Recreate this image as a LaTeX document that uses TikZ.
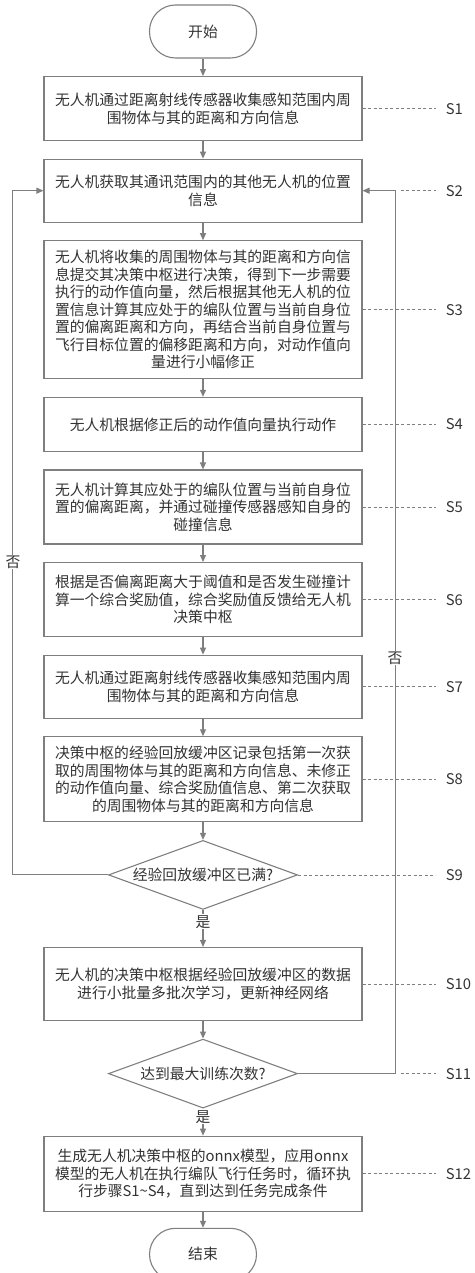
\documentclass[tikz,border=0pt]{standalone}
\usepackage{fontspec}
\setmainfont{Noto Sans CJK SC}
\usetikzlibrary{arrows.meta,positioning,shapes.geometric}
\definecolor{flowgrey}{HTML}{7F7F7F}
\definecolor{flowtext}{HTML}{333333}
\newcommand{\cnsize}{\fontsize{14.8pt}{17.5pt}\selectfont}

\begin{document}
\begin{tikzpicture}[
every node/.style={font=\cnsize,text=flowtext},
box/.style={draw=flowgrey,line width=1.1pt,align=center,minimum width=318pt,minimum height=63pt,inner sep=2pt,fill=white},
term/.style={draw=flowgrey,line width=1.1pt,rounded corners=26pt,minimum width=107pt,minimum height=53pt},
dec/.style={draw=flowgrey,line width=1.1pt,diamond,aspect=2.7,minimum width=189pt,minimum height=69pt,inner sep=1pt},
arr/.style={-{Triangle[length=7pt,width=6pt]},line width=1.1pt,draw=flowgrey},
lnk/.style={draw=flowgrey,line width=0.7pt,dash pattern=on 3pt off 2.5pt,shorten >=10pt},
tag/.style={anchor=west,inner sep=0pt},
yn/.style={fill=white,inner sep=1pt},
node distance=17.5pt
]
\useasboundingbox (0,0) rectangle (474pt,-1273pt);

% main column
\node[term] (start) at (203pt,-31.5pt) {开始};
\node[box,below=of start,minimum height=64pt] (s1) {无人机通过距离射线传感器收集感知范围内周\\围物体与其的距离和方向信息};
\node[box,below=of s1] (s2) {无人机获取其通讯范围内的其他无人机的位置\\信息};
\node[box,below=of s2,minimum height=138pt] (s3) {无人机将收集的周围物体与其的距离和方向信\\息提交其决策中枢进行决策，得到下一步需要\\执行的动作值向量，然后根据其他无人机的位\\置信息计算其应处于的编队位置与当前自身位\\置的偏离距离和方向，再结合当前自身位置与\\飞行目标位置的偏移距离和方向，对动作值向\\量进行小幅修正};
\node[box,below=of s3,minimum height=54pt] (s4) {无人机根据修正后的动作值向量执行动作};
\node[box,below=of s4,minimum height=74pt] (s5) {无人机计算其应处于的编队位置与当前自身位\\置的偏离距离，并通过碰撞传感器感知自身的\\碰撞信息};
\node[box,below=of s5,minimum height=74pt] (s6) {根据是否偏离距离大于阈值和是否发生碰撞计\\算一个综合奖励值，综合奖励值反馈给无人机\\决策中枢};
\node[box,below=of s6] (s7) {无人机通过距离射线传感器收集感知范围内周\\围物体与其的距离和方向信息};
\node[box,below=of s7,minimum height=85pt] (s8) {决策中枢的经验回放缓冲区记录包括第一次获\\取的周围物体与其的距离和方向信息、未修正\\的动作值向量、综合奖励值信息、第二次获取\\的周围物体与其的距离和方向信息};
\node[dec,below=of s8] (s9) {经验回放缓冲区已满?};
\node[box,below=37pt of s9,minimum height=73pt] (s10) {无人机的决策中枢根据经验回放缓冲区的数据\\进行小批量多批次学习，更新神经网络};
\node[dec,below=of s10] (s11) {达到最大训练次数?};
\node[box,below=27pt of s11,minimum height=75pt] (s12) {生成无人机决策中枢的onnx模型，应用onnx\\模型的无人机在执行编队飞行任务时，循环执\\行步骤S1\textasciitilde S4，直到达到任务完成条件};
\node[term,below=16pt of s12,minimum height=52pt] (stop) {结束};

\draw[arr] (start) -- (s1);
\draw[arr] (s1) -- (s2);
\draw[arr] (s2) -- (s3);
\draw[arr] (s3) -- (s4);
\draw[arr] (s4) -- (s5);
\draw[arr] (s5) -- (s6);
\draw[arr] (s6) -- (s7);
\draw[arr] (s7) -- (s8);
\draw[arr] (s8) -- (s9);
\draw[arr] (s9) -- node[yn,pos=0.32] {是} (s10);
\draw[arr] (s10) -- (s11);
\draw[arr] (s11) -- node[yn,pos=0.3] {是} (s12);
\draw[arr] (s12) -- (stop);

% loops back to S2
\coordinate (loopL) at ([xshift=-31pt]s2.west);
\coordinate (loopR) at ([xshift=33pt]s2.east);
\coordinate (cornR) at (loopR |- s11.east);
\draw[arr] (s9.west) -| (loopL) -- (s2.west);
\draw[arr] (s11.east) -| (loopR) -- (s2.east);
\node[yn] (noL) at (13pt,-562pt) {否};
\node[yn] (noR) at (395pt,-658pt) {否};

% step labels
\node[tag] (l1) at ([xshift=83pt]s1.east) {S1};
\node[tag] (l2) at ([xshift=83pt]s2.east) {S2};
\node[tag] (l3) at ([xshift=83pt]s3.east) {S3};
\node[tag] (l4) at ([xshift=83pt]s4.east) {S4};
\node[tag] (l5) at ([xshift=83pt]s5.east) {S5};
\node[tag] (l6) at ([xshift=83pt]s6.east) {S6};
\node[tag] (l7) at ([xshift=83pt]s7.east) {S7};
\node[tag] (l8) at ([xshift=83pt]s8.east) {S8};
\node[tag] (l9) at (l8.west |- s9.east) {S9};
\node[tag] (l10) at ([xshift=83pt]s10.east) {S10};
\node[tag] (l11) at (l10.west |- s11.east) {S11};
\node[tag] (l12) at ([xshift=83pt]s12.east) {S12};

\draw[lnk] (s1.east) -- (l1.west);
\draw[lnk] ([xshift=5pt]loopR) -- (l2.west);
\draw[lnk] (s3.east) -- (l3.west);
\draw[lnk] (s4.east) -- (l4.west);
\draw[lnk] (s5.east) -- (l5.west);
\draw[lnk] (s6.east) -- (l6.west);
\draw[lnk] (s7.east) -- (l7.west);
\draw[lnk] (s8.east) -- (l8.west);
\draw[lnk] (s9.east) -- (l9.west);
\draw[lnk] (s10.east) -- (l10.west);
\draw[lnk] ([xshift=5pt]cornR) -- (l11.west);
\draw[lnk] (s12.east) -- (l12.west);
\end{tikzpicture}
\end{document}
